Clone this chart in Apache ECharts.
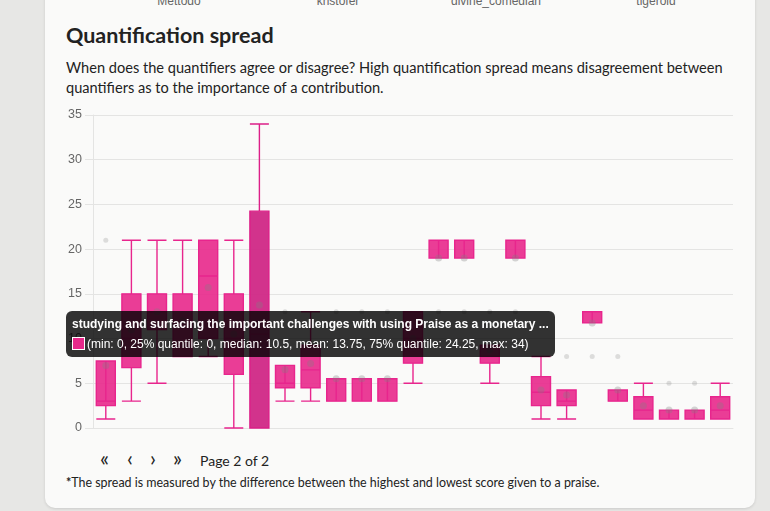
<!DOCTYPE html>
<html>
<head>
<meta charset="utf-8">
<script src="https://cdn.jsdelivr.net/npm/echarts@6/dist/echarts.min.js"></script>
<style>
  html, body { margin: 0; padding: 0; width: 770px; height: 511px; overflow: hidden; background: #e7e7e5; }
  #card { position: absolute; left: 45px; top: -20px; width: 710px; height: 528px; background: #fafaf9; border-radius: 10px; box-shadow: 0 1px 3px rgba(0,0,0,0.12); }
  .toplabel { position: absolute; top: -6px; font: 12px 'Liberation Sans', Arial, sans-serif; color: #666; transform: translateX(-50%); white-space: nowrap; }
  #title { position: absolute; left: 66px; top: 23px; font: bold 21.5px Lato, sans-serif; color: #222; line-height: 24px; white-space: nowrap; }
  #desc { position: absolute; left: 66px; top: 58px; width: 680px; font: 14.6px Lato, sans-serif; color: #222; line-height: 20px; }
  #pager { position: absolute; left: 100px; top: 446px; font: 14px Lato, sans-serif; color: #222; line-height: 24px; white-space: nowrap; }
  #pager span { display: inline-block; }
  #pager .ar { font-size: 21px; text-align: left; }
  #foot { position: absolute; left: 66px; top: 474px; font: 12.45px Lato, sans-serif; color: #222; line-height: 18px; white-space: nowrap; }
  #chart { position: absolute; left: 0; top: 0; width: 770px; height: 511px; }
</style>
</head>
<body>
<div id="card"></div>
<div class="toplabel" style="left:179px">Mettodo</div>
<div class="toplabel" style="left:338px">kristofer</div>
<div class="toplabel" style="left:496px">divine_comedian</div>
<div class="toplabel" style="left:656px">tigeroid</div>
<div id="title">Quantification spread</div>
<div id="desc">When does the quantifiers agree or disagree? High quantification spread means disagreement between quantifiers as to the importance of a contribution.</div>
<div id="pager"><span class="ar" style="width:27px">«</span><span class="ar" style="width:23px">‹</span><span class="ar" style="width:23px">›</span><span class="ar" style="width:27px">»</span><span>Page 2 of 2</span></div>
<div id="foot"><b>*</b>The spread is measured by the difference between the highest and lowest score given to a praise.</div>
<div id="chart"></div>
<script>
// ---- data ----
const categories = [
  "praise 26", "praise 27", "praise 28", "praise 29", "praise 30",
  "praise 31",
  "studying and surfacing the important challenges with using Praise as a monetary ...",
  "praise 33", "praise 34", "praise 35", "praise 36", "praise 37",
  "praise 38", "praise 39", "praise 40", "praise 41", "praise 42",
  "praise 43", "praise 44", "praise 45", "praise 46", "praise 47",
  "praise 48", "praise 49", "praise 50"
];
const minValues    = [1, 3, 5, 8, 8, 0, 0, 3, 3, 3, 3, 3, 5, 21, 21, 5, 21, 1, 1, 13, 3, 1, 1, 1, 1];
const q1Values     = [2.5, 6.75, 11, 8, 10, 6, 0, 4.5, 4.5, 3, 3, 3, 7.25, 19, 19, 7.25, 19, 2.5, 2.5, 11.75, 3, 1, 1, 1, 1];
const medianValues = [3, 10, 13, 12, 17, 10, 10.5, 5, 6.5, 3, 3, 3, 10, 21, 21, 8, 21, 4, 3, 13, 3, 2, 1, 1, 2];
const q3Values     = [7.5, 15, 15, 15, 21, 15, 24.25, 7, 9.25, 5.5, 5.5, 5.5, 13, 21, 21, 9.25, 21, 5.75, 4.25, 13, 4.25, 3.5, 2, 2, 3.5];
const maxValues    = [3, 21, 21, 21, 21, 21, 34, 5, 13, 3, 3, 3, 13, 21, 21, 9.25, 21, 8, 3, 13, 3, 5, 1, 1, 5];
const meanValues   = [7, 11, 13, 12, 15.7, 10.5, 13.75, 6.5, 7.2, 5.5, 5.5, 5.5, 10, 19, 19, 8.75, 19, 4.25, 3.7, 11.75, 4.25, 2.5, 2, 2, 2.5];
const outlierCats   = [0, 7, 9, 10, 11, 13, 14, 15, 16, 18, 19, 20, 22, 23];
const outlierValues = [21, 13, 13, 13, 13, 13, 13, 13, 13, 8, 8, 8, 5, 5];
const yTicks = { min: 0, max: 35, interval: 5 };
const hoveredIndex = 6;

const pink = 'rgba(232,44,141,0.92)';
const pinkBorder = '#e8258d';
const boxData = categories.map((c, i) => {
  const item = { value: [minValues[i], q1Values[i], medianValues[i], q3Values[i], maxValues[i]] };
  if (i === hoveredIndex) item.itemStyle = { color: 'rgba(208,40,134,0.95)', borderColor: '#dc1f88' };
  return item;
});
const meanData = categories.map((c, i) => [i, meanValues[i]]);
const outlierData = outlierCats.map((c, k) => [c, outlierValues[k]]);

const chart = echarts.init(document.getElementById('chart'), null, { renderer: 'canvas' });
const gridColor = '#e4e4e3';
chart.setOption({
  animation: false,
  grid: { left: 93, right: 37, top: 115, bottom: 83, containLabel: false },
  xAxis: {
    type: 'category', data: categories,
    axisLine: { show: true, lineStyle: { color: gridColor } },
    axisTick: { show: false }, axisLabel: { show: false }, splitLine: { show: false }
  },
  yAxis: {
    type: 'value', min: yTicks.min, max: yTicks.max, interval: yTicks.interval,
    axisLine: { show: true, lineStyle: { color: gridColor } },
    axisTick: { show: true, length: 8, lineStyle: { color: gridColor } },
    splitLine: { show: true, lineStyle: { color: gridColor } },
    axisLabel: { color: '#666', fontSize: 12.5, fontFamily: 'Liberation Sans', margin: 11 }
  },
  tooltip: {
    trigger: 'item', triggerOn: 'none', alwaysShowContent: true,
    transitionDuration: 0, showDelay: 0,
    position: [66, 311],
    backgroundColor: 'rgba(0,0,0,0.8)', borderWidth: 0, padding: [6, 6],
    extraCssText: 'box-shadow:none;border-radius:6px;',
    formatter: function (p) {
      const i = p.dataIndex;
      return '<div style="font:bold 12px \'Liberation Sans\',Arial,sans-serif;line-height:14px;color:#fff;margin-bottom:6px;white-space:nowrap">' +
        categories[i] + '</div>' +
        '<div style="font:12px \'Liberation Sans\',Arial,sans-serif;line-height:14px;color:#fff;white-space:nowrap">' +
        '<span style="display:inline-block;width:11px;height:11px;background:#e7298a;border:1px solid #fff;vertical-align:-2px;margin-right:2px"></span>' +
        '(min: ' + minValues[i] + ', 25% quantile: ' + q1Values[i] + ', median: ' + medianValues[i] +
        ', mean: ' + meanValues[i] + ', 75% quantile: ' + q3Values[i] + ', max: ' + maxValues[i] + ')</div>';
    }
  },
  series: [
    {
      type: 'boxplot', data: boxData, boxWidth: [19, 19],
      itemStyle: { color: pink, borderColor: pinkBorder, borderWidth: 1.4 },
      emphasis: { disabled: true }
    },
    {
      type: 'scatter', data: meanData, symbolSize: 7, z: 3, silent: true,
      itemStyle: { color: 'rgba(128,128,128,0.4)' }, tooltip: { show: false }
    },
    {
      type: 'scatter', data: outlierData, symbolSize: 5, z: 3, silent: true,
      itemStyle: { color: 'rgba(128,128,128,0.3)' }, tooltip: { show: false }
    }
  ]
});
chart.dispatchAction({ type: 'showTip', seriesIndex: 0, dataIndex: hoveredIndex });
</script>
</body>
</html>
